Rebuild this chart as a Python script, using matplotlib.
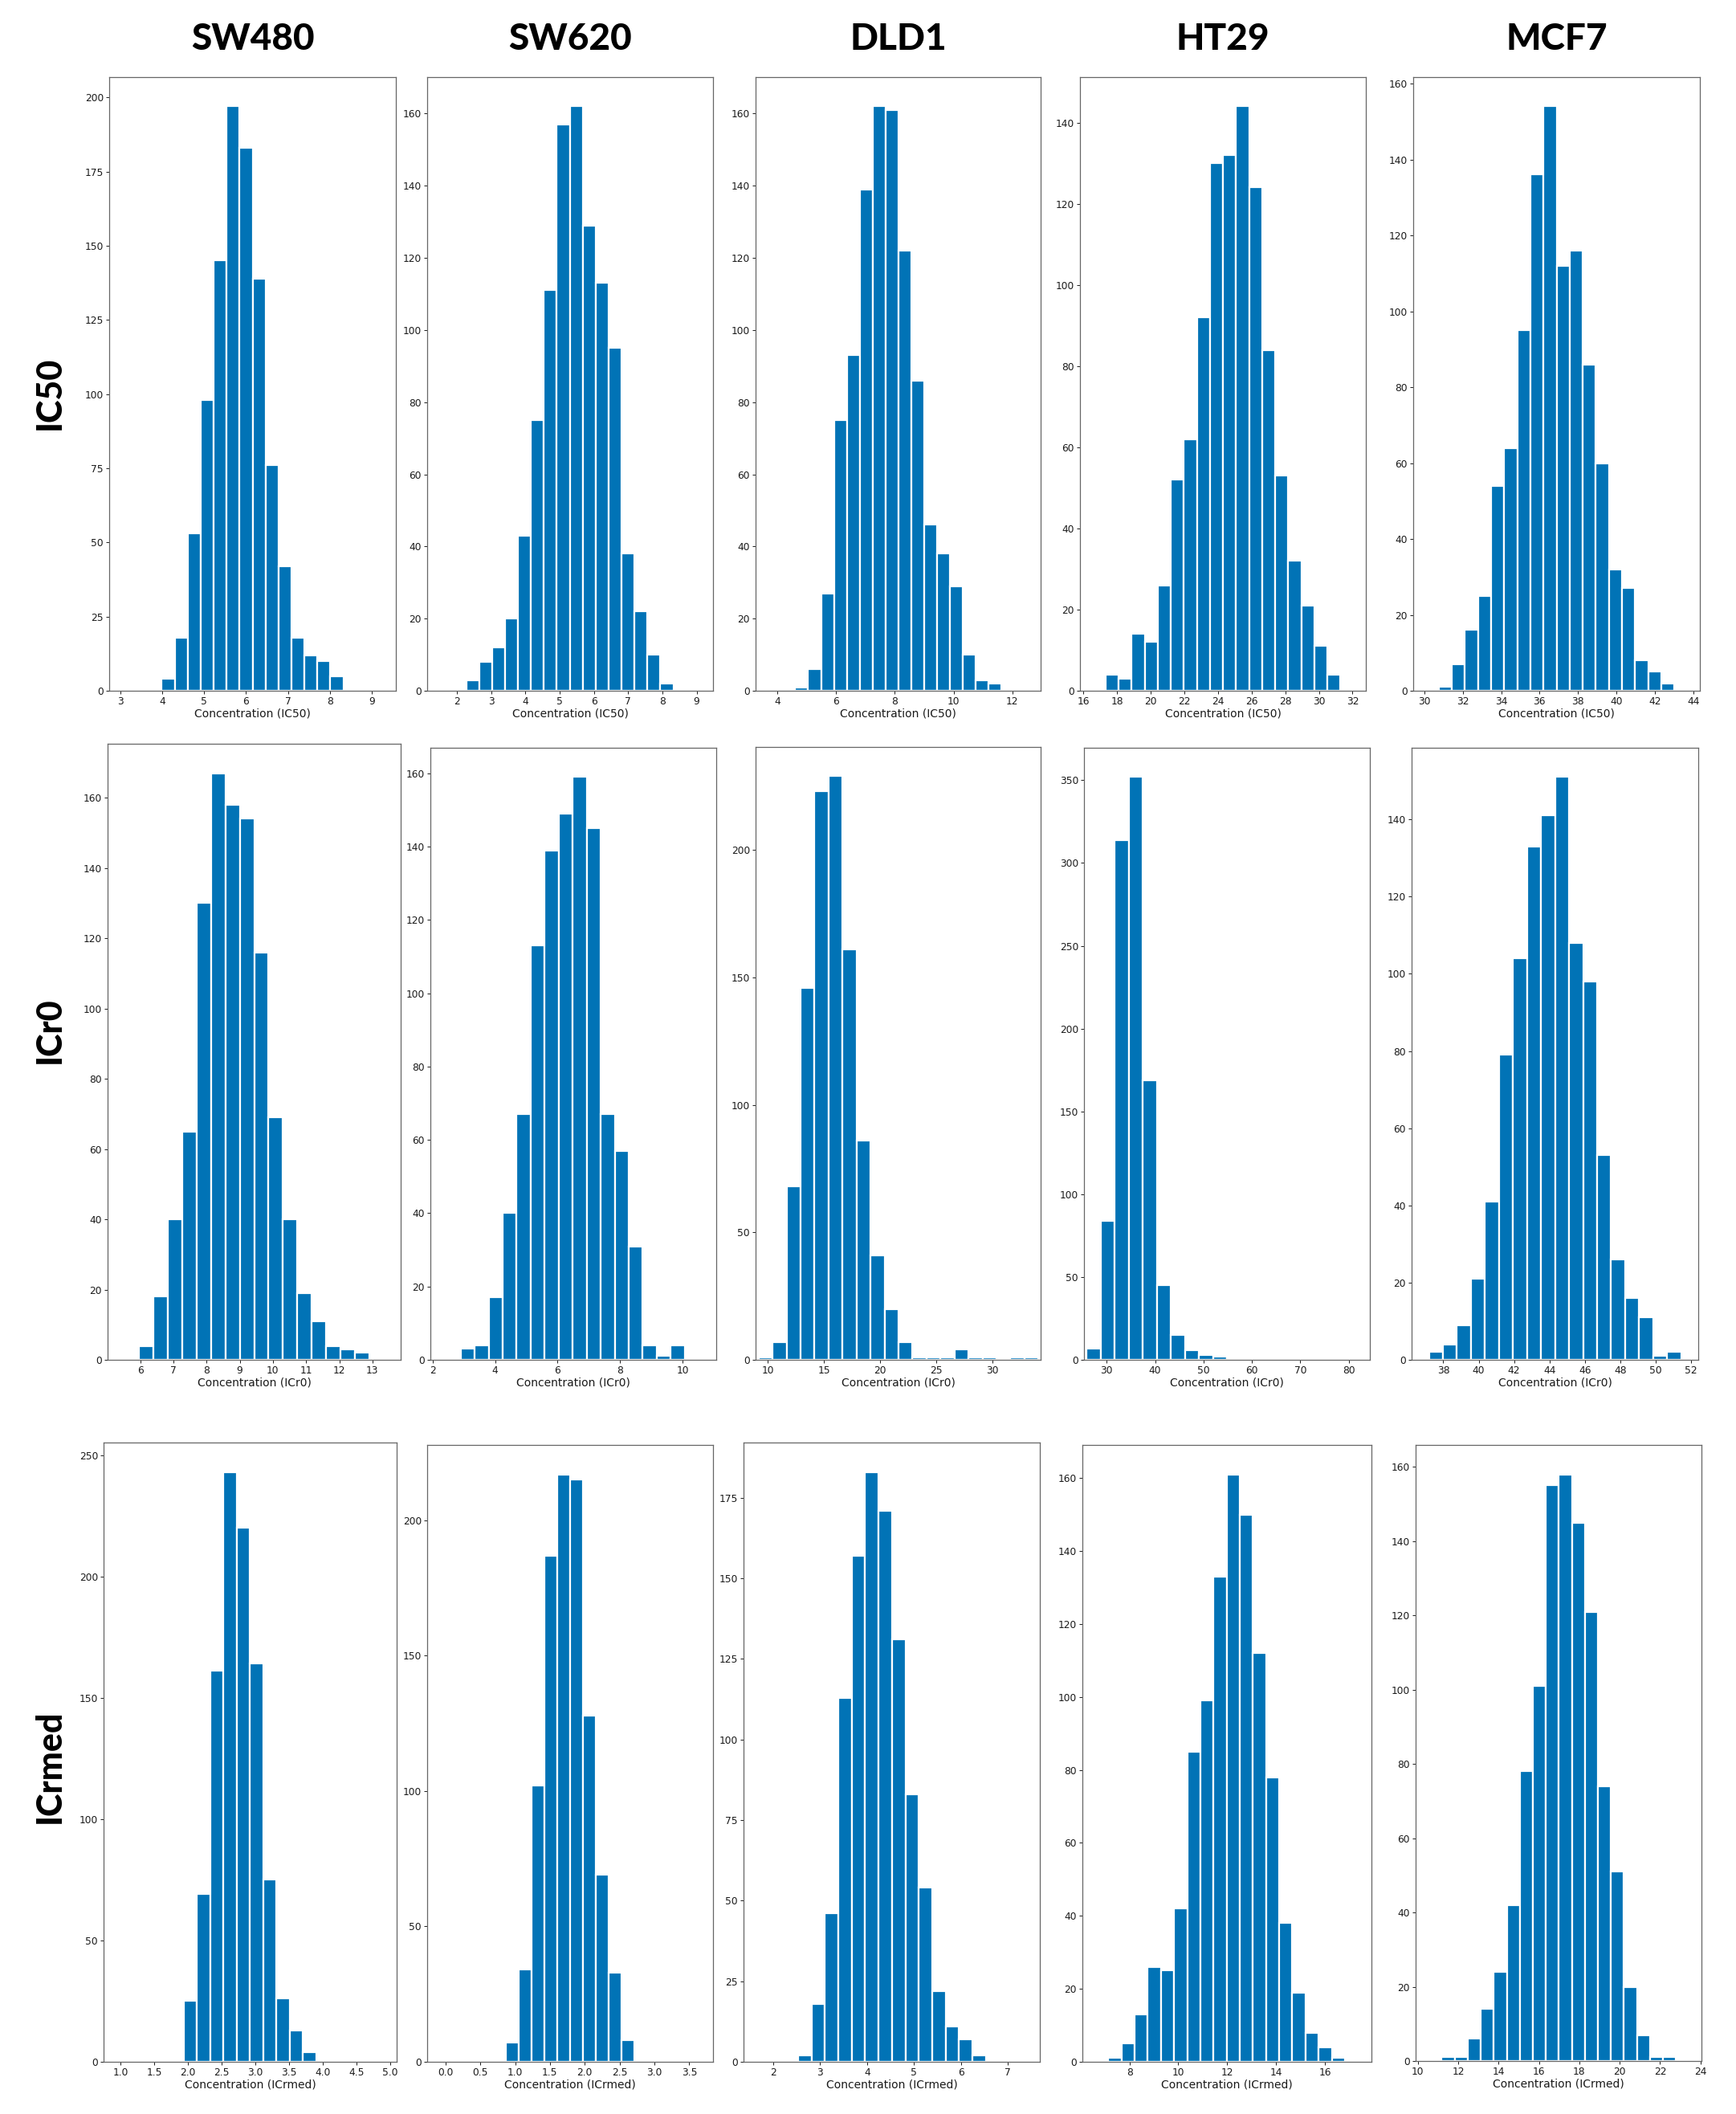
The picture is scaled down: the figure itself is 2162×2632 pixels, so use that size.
import numpy as np
import matplotlib
matplotlib.use("Agg")
import matplotlib.pyplot as plt
from matplotlib.ticker import MultipleLocator

# === Données : comptes par classe ===
cell_lines = ["SW480", "SW620", "DLD1", "HT29", "MCF7"]
measures = ["IC50", "ICr0", "ICrmed"]

# IC50
sw480_ic50 = [4, 18, 53, 98, 145, 197, 183, 139, 76, 42, 18, 12, 10, 5]
sw620_ic50 = [3, 8, 12, 20, 43, 75, 111, 157, 162, 129, 113, 95, 38, 22, 10, 2]
dld1_ic50 = [1, 6, 27, 75, 93, 139, 162, 161, 122, 86, 46, 38, 29, 10, 3, 2]
ht29_ic50 = [4, 3, 14, 12, 26, 52, 62, 92, 130, 132, 144, 124, 84, 53, 32, 21, 11, 4]
mcf7_ic50 = [1, 7, 16, 25, 54, 64, 95, 136, 154, 112, 116, 86, 60, 32, 27, 8, 5, 2]

# ICr0
sw480_icr0 = [4, 18, 40, 65, 130, 167, 158, 154, 116, 69, 40, 19, 11, 4, 3, 2]
sw620_icr0 = [3, 4, 17, 40, 67, 113, 139, 149, 159, 145, 67, 57, 31, 4, 1, 4]
dld1_icr0 = [1, 7, 68, 146, 223, 229, 161, 86, 41, 20, 7, 1, 1, 1, 4, 1, 1, 0, 1, 1]
ht29_icr0 = [7, 84, 314, 352, 169, 45, 15, 6, 3, 2, 1, 1, 0, 0, 0, 0, 0, 0, 0, 1]
mcf7_icr0 = [2, 4, 9, 21, 41, 79, 104, 133, 141, 151, 108, 98, 53, 26, 16, 11, 1, 2]

# ICrmed
sw480_icrmed = [25, 69, 161, 243, 220, 164, 75, 26, 13, 4]
sw620_icrmed = [7, 34, 102, 187, 217, 215, 128, 69, 33, 8]
dld1_icrmed = [2, 18, 46, 113, 157, 183, 171, 131, 83, 54, 22, 11, 7, 2]
ht29_icrmed = [1, 5, 13, 26, 25, 42, 85, 99, 133, 161, 150, 112, 78, 38, 19, 8, 4, 1]
mcf7_icrmed = [1, 1, 6, 14, 24, 42, 78, 101, 155, 158, 145, 121, 74, 51, 20, 7, 1, 1]

# bornes des classes : bord gauche de la 1re, bord droit de la dernière
ic50_ranges = [(3.99, 8.32), (2.27, 8.32), (4.61, 11.63), (17.32, 31.28), (30.75, 43.02)]
icr0_ranges = [(5.97, 12.90), (2.90, 10.07), (9.17, 34.10), (25.88, 83.90), (37.19, 51.44)]
icrmed_ranges = [(1.934, 3.90), (0.865, 2.714), (2.53, 6.53), (7.136, 16.82), (11.18, 22.79)]

counts = [
    [sw480_ic50, sw620_ic50, dld1_ic50, ht29_ic50, mcf7_ic50],
    [sw480_icr0, sw620_icr0, dld1_icr0, ht29_icr0, mcf7_icr0],
    [sw480_icrmed, sw620_icrmed, dld1_icrmed, ht29_icrmed, mcf7_icrmed],
]
ranges = [ic50_ranges, icr0_ranges, icrmed_ranges]

# === Mise en page (pixels de la figure 2162x2632) ===
W, H = 2162, 2632
# (gauche, haut, droite, bas) de chaque axe
boxes = [
    [(136, 96, 493, 860), (532, 96, 888, 860), (941, 96, 1296, 860),
     (1345, 96, 1701, 860), (1760, 96, 2117, 860)],
    [(134, 926, 499, 1693), (536, 931, 892, 1693), (941, 930, 1296, 1693),
     (1350, 931, 1706, 1693), (1758, 931, 2115, 1693)],
    [(129, 1796, 494, 2567), (532, 1799, 888, 2567), (926, 1796, 1295, 2567),
     (1348, 1799, 1708, 2567), (1763, 1799, 2119, 2566)],
]
xlims = [
    [(2.74, 9.57), (1.13, 9.48), (3.26, 12.96), (15.80, 32.79), (29.42, 44.35)],
    [(5.02, 13.85), (1.93, 11.08), (8.90, 34.29), (25.3, 84.35), (36.21, 52.41)],
    [(0.746, 5.098), (-0.262, 3.84), (1.37, 7.68), (6.07, 17.91), (9.89, 24.05)],
]
xsteps = [[1, 1, 2, 2, 2], [1, 2, 5, 10, 2], [0.5, 0.5, 1, 2, 2]]
ysteps = [[25, 20, 20, 20, 20], [20, 20, 50, 50, 20], [50, 50, 25, 20, 20]]
row_centers = [489, 1283, 2199]

bar_color = "#0173B6"

fig = plt.figure(figsize=(W / 100, H / 100), dpi=100)
fig.patch.set_facecolor("white")

for r in range(3):
    for c in range(5):
        left, top, right, bottom = boxes[r][c]
        ax = fig.add_axes([left / W, 1 - bottom / H, (right - left) / W, (bottom - top) / H])

        lo, hi = ranges[r][c]
        vals = np.array(counts[r][c], dtype=float)
        edges = np.linspace(lo, hi, len(vals) + 1)
        ax.hist(edges[:-1], bins=edges, weights=vals, color=bar_color,
                edgecolor="white", linewidth=1.6)

        ax.set_xlim(*xlims[r][c])
        ax.xaxis.set_major_locator(MultipleLocator(xsteps[r][c]))
        ax.yaxis.set_major_locator(MultipleLocator(ysteps[r][c]))
        ax.tick_params(labelsize=8.8, length=3, width=0.7, pad=2, colors="#1a1a1a")
        ax.set_xlabel(f"Concentration ({measures[r]})", fontsize=10, labelpad=1,
                      color="#1a1a1a")
        for sp in ax.spines.values():
            sp.set_color("#666666")
            sp.set_linewidth(0.9)

        if r == 0:
            cx = (left + right) / 2
            fig.text(cx / W, 1 - 62 / H, cell_lines[c], ha="center", va="baseline",
                     fontsize=33, fontweight="black", family="Lato")

    fig.text(62 / W, 1 - row_centers[r] / H, measures[r], ha="center", va="center",
             rotation=90, fontsize=31, fontweight="black", family="Lato")

fig.savefig("out.png", dpi=100)
